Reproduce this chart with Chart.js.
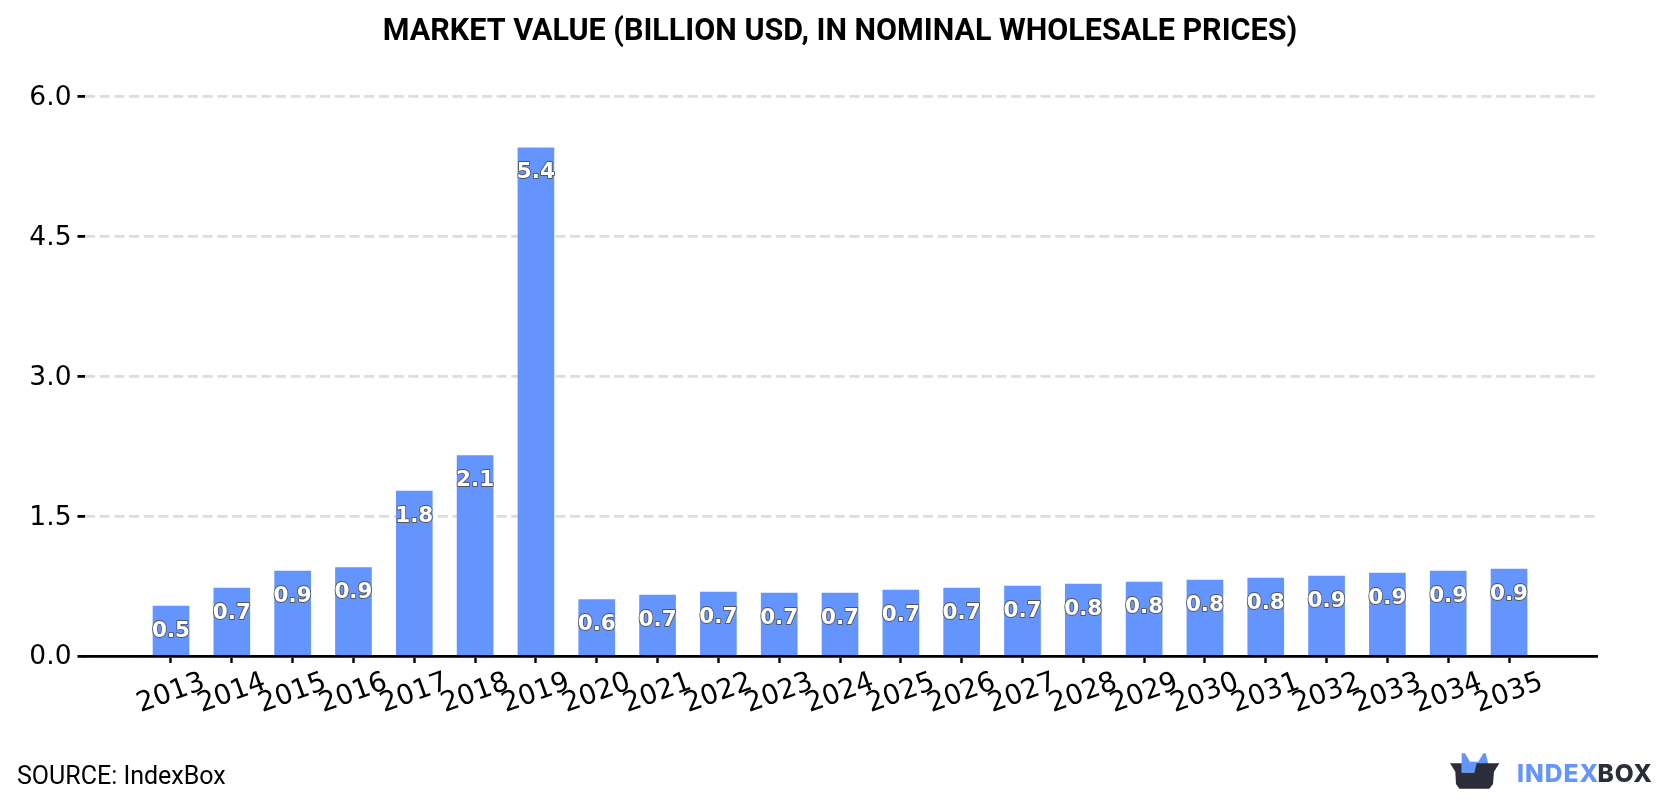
<!DOCTYPE html>
<html>
<head>
<meta charset="utf-8">
<title>Market value</title>
<script src="https://cdn.jsdelivr.net/npm/chart.js@4/dist/chart.umd.min.js"></script>
<style>
  html, body { margin: 0; padding: 0; background: #fff; }
  #wrap { width: 1680px; height: 800px; }
</style>
</head>
<body>
<div id="wrap"><canvas id="graf"></canvas></div>
<script>
const years = [2013, 2014, 2015, 2016, 2017, 2018, 2019, 2020, 2021, 2022, 2023, 2024,
  2025, 2026, 2027, 2028, 2029, 2030, 2031, 2032, 2033, 2034, 2035];
const valores = [0.536, 0.729, 0.911, 0.949, 1.768, 2.149, 5.449, 0.605, 0.654, 0.686, 0.675, 0.675,
  0.707, 0.729, 0.749, 0.772, 0.793, 0.815, 0.836, 0.857, 0.89, 0.911, 0.932];
const yTicks = [0, 1.5, 3, 4.5, 6];

const AZUL = '#6495ff';
const OSCURO = '#2b2d3a';

// value on top of every bar, white with a thin dark outline
const etiquetas = {
  id: 'etiquetas',
  afterDatasetsDraw(chart) {
    const ctx = chart.ctx;
    ctx.save();
    ctx.font = 'bold 21.5px "DejaVu Sans"';
    ctx.textAlign = 'center';
    ctx.textBaseline = 'middle';
    ctx.lineJoin = 'round';
    chart.getDatasetMeta(0).data.forEach((bar, i) => {
      const txt = valores[i].toFixed(1);
      ctx.lineWidth = 1.8;
      ctx.strokeStyle = '#555';
      ctx.strokeText(txt, bar.x, bar.y + 25);
      ctx.fillStyle = '#fff';
      ctx.fillText(txt, bar.x, bar.y + 25);
    });
    ctx.restore();
  }
};

// source line and logo at the bottom
const pie = {
  id: 'pie',
  afterDraw(chart) {
    const ctx = chart.ctx;
    ctx.save();
    ctx.fillStyle = '#000';
    ctx.font = '25px Roboto';
    ctx.textAlign = 'left';
    ctx.textBaseline = 'middle';
    ctx.fillText('SOURCE: IndexBox', 17, 778);

    const pt = (list, color) => {
      ctx.beginPath();
      list.forEach((p, i) => {
        const x = 1420 + p[0] / 3, y = 730 + p[1] / 3;
        if (i === 0) ctx.moveTo(x, y); else ctx.lineTo(x, y);
      });
      ctx.closePath();
      ctx.fillStyle = color;
      ctx.fill();
    };
    pt([[125,70],[135,70],[150,95],[175,95],[190,70],[197,70],[205,102],[172,102],[163,128],[125,128]], AZUL);
    pt([[90,100],[125,100],[125,128],[163,128],[170,100],[238,100],[222,125],[219,162],[208,176],[118,176],[108,162],[106,125]], OSCURO);

    ctx.font = '800 24.5px Inter';
    ctx.letterSpacing = '1px';
    ctx.fillStyle = AZUL;
    ctx.fillText('INDEX', 1517, 775);
    ctx.fillStyle = OSCURO;
    ctx.fillText('BOX', 1597.5, 775);
    ctx.restore();
  }
};

new Chart(document.getElementById('graf'), {
  type: 'bar',
  data: {
    datasets: [{
      data: years.map((y, i) => ({ x: y, y: valores[i] })),
      backgroundColor: AZUL,
      barThickness: 36
    }]
  },
  options: {
    responsive: true,
    maintainAspectRatio: false,
    animation: false,
    layout: { padding: { left: 82.3, right: 82.3, top: 0, bottom: 0 } },
    scales: {
      x: {
        type: 'linear',
        offset: false,
        min: 2011.586,
        max: 2036.458,
        afterBuildTicks: scale => {
          scale.ticks = years.map(v => ({ value: v }));
          // years are centred under their tick, not hung from the end
          scale._getXAxisLabelAlignment = () => 'center';
        },
        afterFit: scale => { scale.height = 144; },
        border: { color: '#000', width: 2.8 },
        grid: { offset: false, drawOnChartArea: false, color: '#000', tickColor: '#000', tickLength: 7, tickWidth: 2.4 },
        ticks: {
          autoSkip: false,
          minRotation: 20,
          maxRotation: 20,
          padding: 15,
          color: '#000',
          font: { family: 'DejaVu Sans', size: 27.5 },
          callback: v => String(v)
        }
      },
      y: {
        min: 0,
        max: 6,
        afterBuildTicks: scale => {
          scale.ticks = yTicks.map(v => ({ value: v }));
          // the tick labels hang out over the left padding, so no clipping
          scale._computeLabelArea = () => null;
          // DejaVu sits high on a middle baseline, nudge it back onto the tick
          scale._computeLabelItems = function (area) {
            return Object.getPrototypeOf(this)._computeLabelItems.call(this, area)
              .map(item => ({ ...item, textOffset: item.textOffset + 1.5 }));
          };
        },
        afterFit: scale => { scale.width = 2.7; },
        border: { display: false, dash: [10, 4.7] },
        grid: {
          color: '#dddddd',
          lineWidth: 2.8,
          tickColor: '#000',
          tickLength: 7.5,
          tickWidth: 2.8,
          tickBorderDash: []
        },
        ticks: {
          padding: 6,
          color: '#000',
          font: { family: 'DejaVu Sans', size: 26.5 },
          callback: v => v.toFixed(1)
        }
      }
    },
    plugins: {
      legend: { display: false },
      tooltip: { enabled: false },
      title: {
        display: true,
        text: 'MARKET VALUE (BILLION USD, IN NOMINAL WHOLESALE PRICES)',
        color: '#000',
        font: { family: 'Roboto', size: 30.5, weight: 'bold' },
        padding: { top: 13.7, bottom: 46.2 }
      }
    }
  },
  plugins: [etiquetas, pie]
});
</script>
</body>
</html>
